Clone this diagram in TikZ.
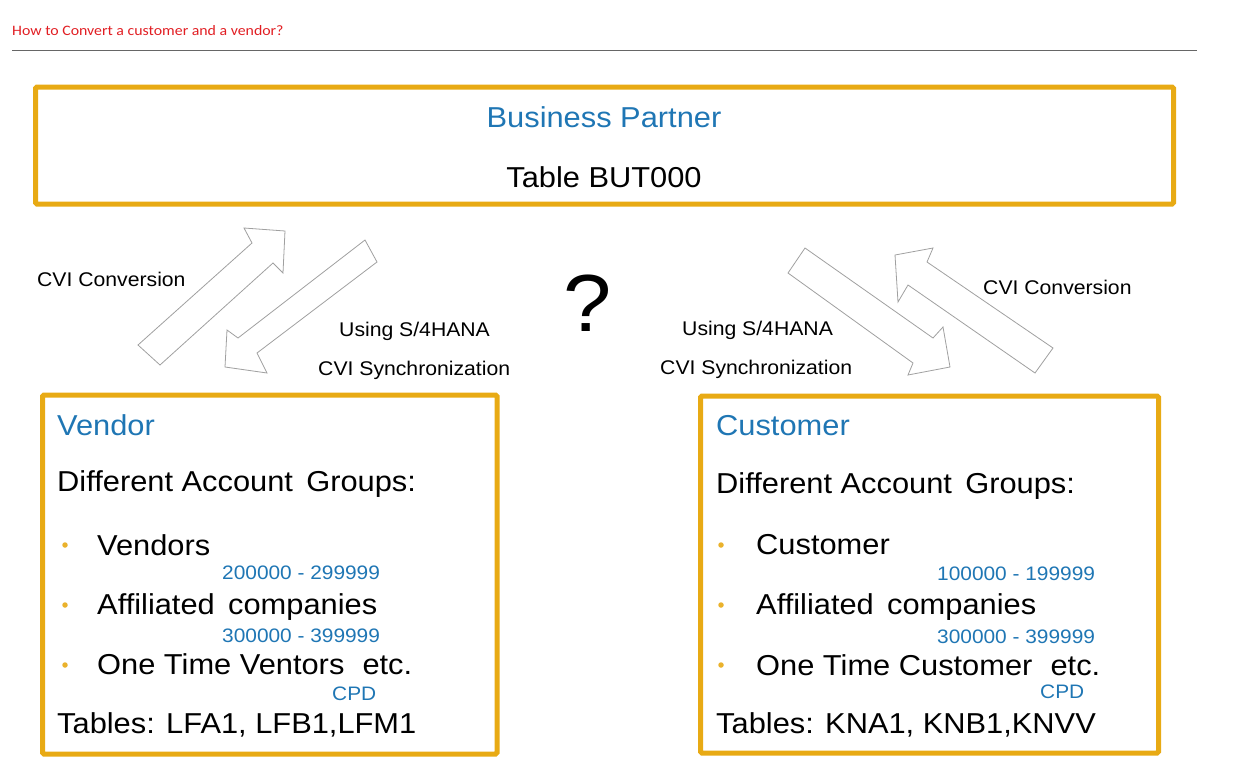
\documentclass[tikz,border=0pt]{standalone}
\usepackage{fontspec}
\setmainfont{Liberation Sans}[FakeStretch=1.07]
\newfontfamily\hdrfont{Carlito}[FakeStretch=1.1]
\definecolor{sapor}{RGB}{232,170,20}
\definecolor{sapblue}{RGB}{31,118,180}
\definecolor{hdrred}{RGB}{225,30,35}
\definecolor{arrgray}{RGB}{160,160,160}
\tikzset{
  frame/.style={draw=sapor,line width=5pt,rounded corners=1.5pt,fill=none,inner sep=0pt},
  big/.style={inner sep=0pt,anchor=base west,font=\fontsize{28.8}{30}\selectfont},
  bigc/.style={inner sep=0pt,anchor=base,font=\fontsize{28.8}{30}\selectfont},
  lbl/.style={inner sep=0pt,anchor=base west,font=\fontsize{19.8}{21}\selectfont},
  num/.style={inner sep=0pt,anchor=base west,text=sapblue,font=\fontsize{19.5}{20}\selectfont},
  blockarrow/.style={draw=arrgray,line width=0.8pt,line join=miter,fill=white},
  bul/.style={circle,fill=sapor!90!white,inner sep=0pt,minimum size=5.5pt}
}
\begin{document}
\begin{tikzpicture}[x=1pt,y=-1pt]
\useasboundingbox (0,0) rectangle (1234,774);
% header
\node[inner sep=0pt,anchor=base west,text=hdrred,font=\hdrfont\fontsize{14.4}{16}\selectfont] (hdr) at (12,35) {How to Convert a customer and a vendor?};
\coordinate (hl1) at (12,50);
\coordinate (hl2) at (1197,50);
\draw[gray!80!black,line width=0.9pt] (hl1) -- (hl2);
% boxes
\node[frame,minimum width=1138pt,minimum height=117pt] (bp) at (604.5,145.5) {};
\node[frame,minimum width=454.5pt,minimum height=359pt] (vend) at (269.75,574.5) {};
\node[frame,minimum width=458pt,minimum height=357pt] (cust) at (929.5,574.5) {};
% business partner text
\node[bigc,text=sapblue] (bpt) at (604,127) {Business Partner};
\node[bigc] (but) at (604,187) {Table BUT000};
% question mark
\node[inner sep=0pt,anchor=base,font=\fontsize{81}{84}\selectfont] (q) at (588,331) {?};
% block arrows
\draw[blockarrow] (138,345) -- (252,243) -- (244,228) -- (285,231) -- (283,273) -- (273,263) -- (160,365) -- cycle;
\draw[blockarrow] (365,240) -- (238,338) -- (227,330) -- (225,367) -- (267,373) -- (257,353) -- (377,262) -- cycle;
\draw[blockarrow] (805,248) -- (933,338) -- (943,327) -- (950,367) -- (908,375) -- (913,363) -- (788,273) -- cycle;
\draw[blockarrow] (895,255) -- (933,248) -- (927,262) -- (1053,348) -- (1035,373) -- (908,285) -- (898,302) -- cycle;
% arrow labels
\node[lbl] (cl) at (37,286) {CVI Conversion};
\node[lbl] (ul) at (339,336) {Using S/4HANA};
\node[lbl] (sl) at (318,375) {CVI Synchronization};
\node[lbl] (cr) at (983,294) {CVI Conversion};
\node[lbl] (ur) at (682,335) {Using S/4HANA};
\node[lbl] (sr) at (660,374) {CVI Synchronization};
% vendor box
\node[big,text=sapblue] (vt) at (57,435) {Vendor};
\node[big] (vd) at (57,491) {Different Account\, Groups:};
\node[bul] (vb1) at (65,545) {};
\node[bul] (vb2) at (65,605) {};
\node[bul] (vb3) at (65,665) {};
\node[big] (v1) at (97,555) {Vendors};
\node[num] (vn1) at (222,579) {200000 - 299999};
\node[big] (v2) at (97,614) {Affiliated\, companies};
\node[num] (vn2) at (222,642) {300000 - 399999};
\node[big] (v3) at (97,674) {One Time Ventors\,\, etc.};
\node[num] (vn3) at (332,700) {CPD};
\node[big] (vtab) at (57,733) {Tables: LFA1, LFB1,LFM1};
% customer box
\node[big,text=sapblue] (ct) at (716,435) {Customer};
\node[big] (cd) at (716,493) {Different Account\, Groups:};
\node[bul] (cb1) at (721,545) {};
\node[bul] (cb2) at (721,605) {};
\node[bul] (cb3) at (721,665) {};
\node[big] (c1) at (756,554) {Customer};
\node[num] (cn1) at (937,580) {100000 - 199999};
\node[big] (c2) at (756,614) {Affiliated\, companies};
\node[num] (cn2) at (937,643) {300000 - 399999};
\node[big] (c3) at (756,675) {One Time Customer\,\, etc.};
\node[num] (cn3) at (1040,698) {CPD};
\node[big] (ctab) at (716,733) {Tables: KNA1, KNB1,KNVV};
\end{tikzpicture}
\end{document}
